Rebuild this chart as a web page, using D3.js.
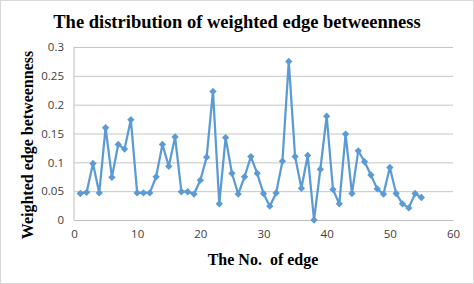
<!DOCTYPE html>
<html>
<head>
<meta charset="utf-8">
<script src="https://cdn.jsdelivr.net/npm/d3@7"></script>
<style>
  body { margin: 0; background: #fff; }
  svg { display: block; }
  .tick text { font-family: "Open Sans", "Liberation Sans", sans-serif; font-size: 11.5px; fill: #404040; }
  .title { font-family: "Liberation Serif", "Times New Roman", serif; font-weight: bold; fill: #000; }
</style>
</head>
<body>
<div id="chart"></div>
<script>
// edge number and its weighted betweenness
const edgeNo = d3.range(1, 56);
const betweenness = [
  0.046, 0.048, 0.098, 0.047, 0.160, 0.074, 0.131, 0.123, 0.174, 0.047,
  0.047, 0.047, 0.075, 0.131, 0.093, 0.144, 0.049, 0.049, 0.045, 0.069,
  0.109, 0.223, 0.028, 0.143, 0.081, 0.045, 0.075, 0.110, 0.081, 0.046,
  0.024, 0.047, 0.102, 0.275, 0.110, 0.055, 0.112, 0.000, 0.088, 0.180,
  0.053, 0.028, 0.149, 0.046, 0.120, 0.101, 0.078, 0.054, 0.045, 0.091,
  0.046, 0.028, 0.021, 0.046, 0.039
];
const xTicks = [0, 10, 20, 30, 40, 50, 60];
const yTicks = [0, 0.05, 0.1, 0.15, 0.2, 0.25, 0.3];

const width = 474, height = 284;
const margin = { top: 47, right: 21, bottom: 64, left: 74 };
const w = width - margin.left - margin.right;
const h = height - margin.top - margin.bottom;

const svg = d3.select("#chart").append("svg")
  .attr("width", width)
  .attr("height", height);

svg.append("rect")
  .attr("x", 0.5).attr("y", 0.5)
  .attr("width", width - 1).attr("height", height - 1)
  .attr("fill", "#fff").attr("stroke", "#d9d9d9");

const g = svg.append("g")
  .attr("transform", "translate(" + margin.left + "," + margin.top + ")");

const x = d3.scaleLinear().domain([0, 60]).range([0, w]);
const y = d3.scaleLinear().domain([0, 0.3]).range([h, 0]);

// gridlines + y axis labels
const yAxis = g.append("g")
  .call(d3.axisLeft(y).tickValues(yTicks).tickSize(-w).tickPadding(10)
    .tickFormat(d => d === 0 ? "0" : String(+d.toFixed(2))));
yAxis.select(".domain").remove();
yAxis.selectAll(".tick line").attr("stroke", "#c6c6c6").attr("stroke-width", 1);

// left axis line
g.append("line")
  .attr("x1", 0).attr("x2", 0).attr("y1", 0).attr("y2", h)
  .attr("stroke", "#bfbfbf");

const xAxis = g.append("g")
  .attr("transform", "translate(0," + h + ")")
  .call(d3.axisBottom(x).tickValues(xTicks).tickSize(0).tickPadding(10));
xAxis.select(".domain").attr("stroke", "#bfbfbf");

// series
const pts = edgeNo.map((n, i) => [n, betweenness[i]]);

g.append("path")
  .datum(pts)
  .attr("fill", "none")
  .attr("stroke", "#5b9bd5")
  .attr("stroke-width", 2.25)
  .attr("stroke-linejoin", "round")
  .attr("d", d3.line().x(d => x(d[0])).y(d => y(d[1])));

g.selectAll(".marker")
  .data(pts)
  .enter()
  .append("path")
  .attr("class", "marker")
  .attr("transform", d => "translate(" + x(d[0]) + "," + y(d[1]) + ")")
  .attr("d", d3.symbol().type(d3.symbolDiamond2).size(34))
  .attr("fill", "#5b9bd5");

// titles
svg.append("text")
  .attr("class", "title")
  .attr("x", 237).attr("y", 28)
  .attr("text-anchor", "middle")
  .attr("font-size", 18.5)
  .text("The distribution of weighted edge betweenness");

svg.append("text")
  .attr("class", "title")
  .attr("x", 263).attr("y", 265)
  .attr("text-anchor", "middle")
  .attr("font-size", 16)
  .style("white-space", "pre")
  .text("The No.  of edge");

svg.append("text")
  .attr("class", "title")
  .attr("transform", "translate(33,145) rotate(-90)")
  .attr("text-anchor", "middle")
  .attr("font-size", 16)
  .text("Weighted edge betweenness");
</script>
</body>
</html>
